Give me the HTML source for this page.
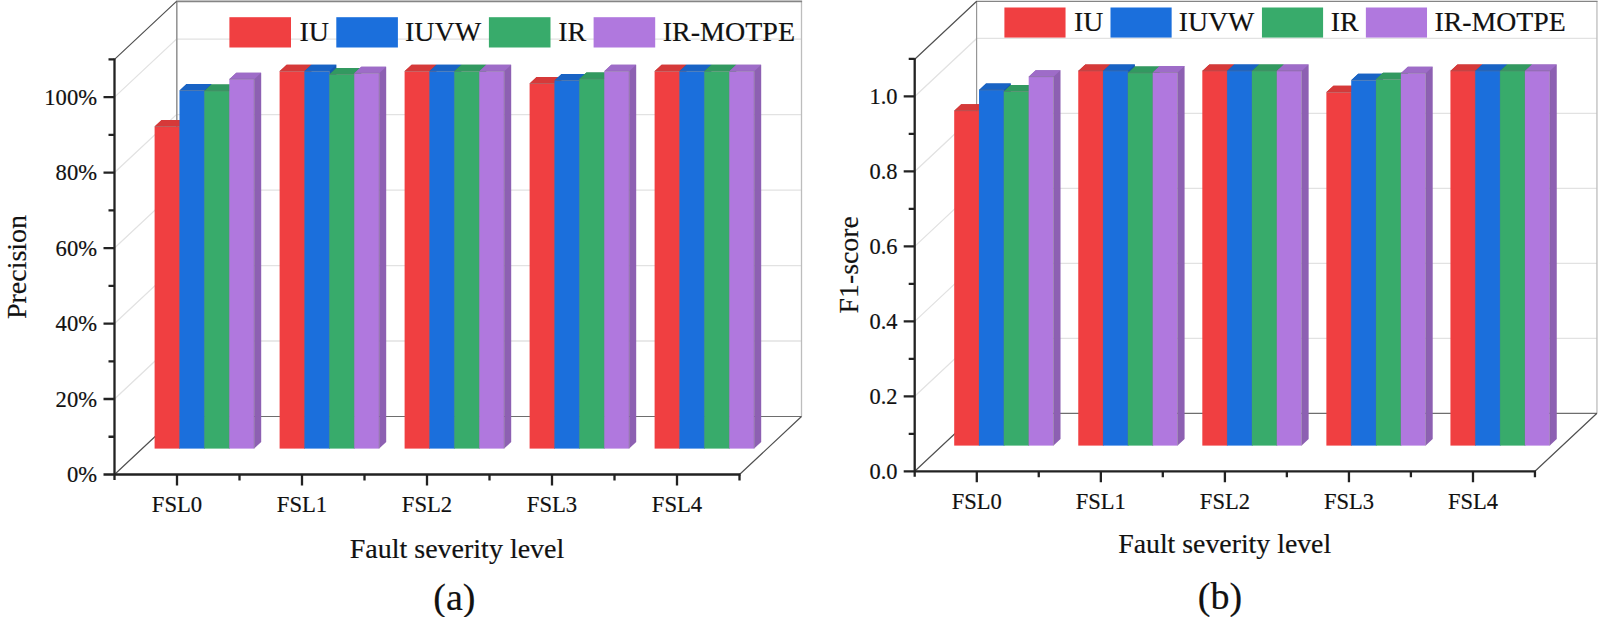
<!DOCTYPE html>
<html lang="en">
<head>
<meta charset="utf-8">
<title>Precision and F1-score by fault severity level</title>
<style>
html,body{margin:0;padding:0;background:#fff;}
body{width:1600px;height:617px;overflow:hidden;}
svg{display:block;}
svg text{font-family:"Liberation Serif",serif;fill:#111;stroke:#111;stroke-width:0.18px;}
</style>
</head>
<body>
<svg width="1600" height="617" viewBox="0 0 1600 617">
<rect width="1600" height="617" fill="#fff"/>
<g id="chart-a">
<path d="M114.5 399.02L176.5 341.02H801.5" fill="none" stroke="#e2e2e2" stroke-width="1.3"/>
<path d="M114.5 323.54L176.5 265.54H801.5" fill="none" stroke="#e2e2e2" stroke-width="1.3"/>
<path d="M114.5 248.06L176.5 190.06H801.5" fill="none" stroke="#e2e2e2" stroke-width="1.3"/>
<path d="M114.5 172.58L176.5 114.58H801.5" fill="none" stroke="#e2e2e2" stroke-width="1.3"/>
<path d="M114.5 97.1L176.5 39.1H801.5" fill="none" stroke="#e2e2e2" stroke-width="1.3"/>
<path d="M801.5 1.4V416.5" fill="none" stroke="#bdbdbd" stroke-width="1.3"/>
<path d="M176.8 416.5V1.4" fill="none" stroke="#969696" stroke-width="1.6"/>
<path d="M176 1.4H802.1" fill="none" stroke="#858585" stroke-width="1.6"/>
<path d="M176.5 416.5H801.5" fill="none" stroke="#6e6e6e" stroke-width="1.2"/>
<path d="M114.5 59.4L176.5 1.4M114.5 474.5L176.5 416.5M739.5 474.5L801.5 416.5" fill="none" stroke="#505050" stroke-width="1.2"/>
<path d="M154.6 126.6L161.6 120.1H186.5V442.1L179.5 448.6V126.6Z" fill="#BF3333"/>
<path d="M154.6 126.6L161.6 120.1H186.5L179.5 126.6Z" fill="#D63939"/>
<rect x="154.6" y="126.6" width="25.3" height="322" fill="#F03F41"/>
<path d="M154.6 126.6H179.5V448.6" fill="none" stroke="#707070" stroke-opacity="0.45" stroke-width="0.8"/>
<path d="M179.5 90.6L186.5 84.1H211.4V442.1L204.4 448.6V90.6Z" fill="#1558B0"/>
<path d="M179.5 90.6L186.5 84.1H211.4L204.4 90.6Z" fill="#1863C5"/>
<rect x="179.5" y="90.6" width="25.3" height="358" fill="#1B6FDC"/>
<path d="M179.5 90.6H204.4V448.6" fill="none" stroke="#707070" stroke-opacity="0.45" stroke-width="0.8"/>
<path d="M204.4 90.9L211.4 84.4H236.3V442.1L229.3 448.6V90.9Z" fill="#2C8855"/>
<path d="M204.4 90.9L211.4 84.4H236.3L229.3 90.9Z" fill="#329960"/>
<rect x="204.4" y="90.9" width="25.3" height="357.7" fill="#38AB6B"/>
<path d="M204.4 90.9H229.3V448.6" fill="none" stroke="#707070" stroke-opacity="0.45" stroke-width="0.8"/>
<path d="M229.3 79.2L236.3 72.7H261.2V442.1L254.2 448.6V79.2Z" fill="#8D60B2"/>
<path d="M229.3 79.2L236.3 72.7H261.2L254.2 79.2Z" fill="#9E6CC8"/>
<rect x="229.3" y="79.2" width="24.9" height="369.4" fill="#B078DE"/>
<path d="M229.3 79.2H254.2V448.6" fill="none" stroke="#707070" stroke-opacity="0.45" stroke-width="0.8"/>
<path d="M279.6 71.3L286.6 64.8H311.5V442.1L304.5 448.6V71.3Z" fill="#BF3333"/>
<path d="M279.6 71.3L286.6 64.8H311.5L304.5 71.3Z" fill="#D63939"/>
<rect x="279.6" y="71.3" width="25.3" height="377.3" fill="#F03F41"/>
<path d="M279.6 71.3H304.5V448.6" fill="none" stroke="#707070" stroke-opacity="0.45" stroke-width="0.8"/>
<path d="M304.5 71.3L311.5 64.8H336.4V442.1L329.4 448.6V71.3Z" fill="#1558B0"/>
<path d="M304.5 71.3L311.5 64.8H336.4L329.4 71.3Z" fill="#1863C5"/>
<rect x="304.5" y="71.3" width="25.3" height="377.3" fill="#1B6FDC"/>
<path d="M304.5 71.3H329.4V448.6" fill="none" stroke="#707070" stroke-opacity="0.45" stroke-width="0.8"/>
<path d="M329.4 74.4L336.4 67.9H361.3V442.1L354.3 448.6V74.4Z" fill="#2C8855"/>
<path d="M329.4 74.4L336.4 67.9H361.3L354.3 74.4Z" fill="#329960"/>
<rect x="329.4" y="74.4" width="25.3" height="374.2" fill="#38AB6B"/>
<path d="M329.4 74.4H354.3V448.6" fill="none" stroke="#707070" stroke-opacity="0.45" stroke-width="0.8"/>
<path d="M354.3 73.3L361.3 66.8H386.2V442.1L379.2 448.6V73.3Z" fill="#8D60B2"/>
<path d="M354.3 73.3L361.3 66.8H386.2L379.2 73.3Z" fill="#9E6CC8"/>
<rect x="354.3" y="73.3" width="24.9" height="375.3" fill="#B078DE"/>
<path d="M354.3 73.3H379.2V448.6" fill="none" stroke="#707070" stroke-opacity="0.45" stroke-width="0.8"/>
<path d="M404.6 71.3L411.6 64.8H436.5V442.1L429.5 448.6V71.3Z" fill="#BF3333"/>
<path d="M404.6 71.3L411.6 64.8H436.5L429.5 71.3Z" fill="#D63939"/>
<rect x="404.6" y="71.3" width="25.3" height="377.3" fill="#F03F41"/>
<path d="M404.6 71.3H429.5V448.6" fill="none" stroke="#707070" stroke-opacity="0.45" stroke-width="0.8"/>
<path d="M429.5 71.3L436.5 64.8H461.4V442.1L454.4 448.6V71.3Z" fill="#1558B0"/>
<path d="M429.5 71.3L436.5 64.8H461.4L454.4 71.3Z" fill="#1863C5"/>
<rect x="429.5" y="71.3" width="25.3" height="377.3" fill="#1B6FDC"/>
<path d="M429.5 71.3H454.4V448.6" fill="none" stroke="#707070" stroke-opacity="0.45" stroke-width="0.8"/>
<path d="M454.4 71.3L461.4 64.8H486.3V442.1L479.3 448.6V71.3Z" fill="#2C8855"/>
<path d="M454.4 71.3L461.4 64.8H486.3L479.3 71.3Z" fill="#329960"/>
<rect x="454.4" y="71.3" width="25.3" height="377.3" fill="#38AB6B"/>
<path d="M454.4 71.3H479.3V448.6" fill="none" stroke="#707070" stroke-opacity="0.45" stroke-width="0.8"/>
<path d="M479.3 71.3L486.3 64.8H511.2V442.1L504.2 448.6V71.3Z" fill="#8D60B2"/>
<path d="M479.3 71.3L486.3 64.8H511.2L504.2 71.3Z" fill="#9E6CC8"/>
<rect x="479.3" y="71.3" width="24.9" height="377.3" fill="#B078DE"/>
<path d="M479.3 71.3H504.2V448.6" fill="none" stroke="#707070" stroke-opacity="0.45" stroke-width="0.8"/>
<path d="M529.6 83.5L536.6 77H561.5V442.1L554.5 448.6V83.5Z" fill="#BF3333"/>
<path d="M529.6 83.5L536.6 77H561.5L554.5 83.5Z" fill="#D63939"/>
<rect x="529.6" y="83.5" width="25.3" height="365.1" fill="#F03F41"/>
<path d="M529.6 83.5H554.5V448.6" fill="none" stroke="#707070" stroke-opacity="0.45" stroke-width="0.8"/>
<path d="M554.5 80.6L561.5 74.1H586.4V442.1L579.4 448.6V80.6Z" fill="#1558B0"/>
<path d="M554.5 80.6L561.5 74.1H586.4L579.4 80.6Z" fill="#1863C5"/>
<rect x="554.5" y="80.6" width="25.3" height="368" fill="#1B6FDC"/>
<path d="M554.5 80.6H579.4V448.6" fill="none" stroke="#707070" stroke-opacity="0.45" stroke-width="0.8"/>
<path d="M579.4 79L586.4 72.5H611.3V442.1L604.3 448.6V79Z" fill="#2C8855"/>
<path d="M579.4 79L586.4 72.5H611.3L604.3 79Z" fill="#329960"/>
<rect x="579.4" y="79" width="25.3" height="369.6" fill="#38AB6B"/>
<path d="M579.4 79H604.3V448.6" fill="none" stroke="#707070" stroke-opacity="0.45" stroke-width="0.8"/>
<path d="M604.3 71.3L611.3 64.8H636.2V442.1L629.2 448.6V71.3Z" fill="#8D60B2"/>
<path d="M604.3 71.3L611.3 64.8H636.2L629.2 71.3Z" fill="#9E6CC8"/>
<rect x="604.3" y="71.3" width="24.9" height="377.3" fill="#B078DE"/>
<path d="M604.3 71.3H629.2V448.6" fill="none" stroke="#707070" stroke-opacity="0.45" stroke-width="0.8"/>
<path d="M654.6 71.3L661.6 64.8H686.5V442.1L679.5 448.6V71.3Z" fill="#BF3333"/>
<path d="M654.6 71.3L661.6 64.8H686.5L679.5 71.3Z" fill="#D63939"/>
<rect x="654.6" y="71.3" width="25.3" height="377.3" fill="#F03F41"/>
<path d="M654.6 71.3H679.5V448.6" fill="none" stroke="#707070" stroke-opacity="0.45" stroke-width="0.8"/>
<path d="M679.5 71.3L686.5 64.8H711.4V442.1L704.4 448.6V71.3Z" fill="#1558B0"/>
<path d="M679.5 71.3L686.5 64.8H711.4L704.4 71.3Z" fill="#1863C5"/>
<rect x="679.5" y="71.3" width="25.3" height="377.3" fill="#1B6FDC"/>
<path d="M679.5 71.3H704.4V448.6" fill="none" stroke="#707070" stroke-opacity="0.45" stroke-width="0.8"/>
<path d="M704.4 71.3L711.4 64.8H736.3V442.1L729.3 448.6V71.3Z" fill="#2C8855"/>
<path d="M704.4 71.3L711.4 64.8H736.3L729.3 71.3Z" fill="#329960"/>
<rect x="704.4" y="71.3" width="25.3" height="377.3" fill="#38AB6B"/>
<path d="M704.4 71.3H729.3V448.6" fill="none" stroke="#707070" stroke-opacity="0.45" stroke-width="0.8"/>
<path d="M729.3 71.3L736.3 64.8H761.2V442.1L754.2 448.6V71.3Z" fill="#8D60B2"/>
<path d="M729.3 71.3L736.3 64.8H761.2L754.2 71.3Z" fill="#9E6CC8"/>
<rect x="729.3" y="71.3" width="24.9" height="377.3" fill="#B078DE"/>
<path d="M729.3 71.3H754.2V448.6" fill="none" stroke="#707070" stroke-opacity="0.45" stroke-width="0.8"/>
<path d="M114.5 58.4V480M103.5 474.5H740.5" fill="none" stroke="#222" stroke-width="2.3"/>
<path d="M108.5 436.76H114.5M103.5 399.02H114.5M108.5 361.28H114.5M103.5 323.54H114.5M108.5 285.8H114.5M103.5 248.06H114.5M108.5 210.32H114.5M103.5 172.58H114.5M108.5 134.84H114.5M103.5 97.1H114.5M108.5 59.36H114.5M177 474.5V485.5M302 474.5V485.5M427 474.5V485.5M552 474.5V485.5M677 474.5V485.5M239.5 474.5V480.5M364.5 474.5V480.5M489.5 474.5V480.5M614.5 474.5V480.5M739.5 474.5V480.5" fill="none" stroke="#222" stroke-width="2.3"/>
<text x="97" y="482" font-size="22.6" text-anchor="end">0%</text>
<text x="97" y="406.52" font-size="22.6" text-anchor="end">20%</text>
<text x="97" y="331.04" font-size="22.6" text-anchor="end">40%</text>
<text x="97" y="255.56" font-size="22.6" text-anchor="end">60%</text>
<text x="97" y="180.08" font-size="22.6" text-anchor="end">80%</text>
<text x="97" y="104.6" font-size="22.6" text-anchor="end">100%</text>
<text x="177" y="512.2" font-size="22.7" text-anchor="middle">FSL0</text>
<text x="302" y="512.2" font-size="22.7" text-anchor="middle">FSL1</text>
<text x="427" y="512.2" font-size="22.7" text-anchor="middle">FSL2</text>
<text x="552" y="512.2" font-size="22.7" text-anchor="middle">FSL3</text>
<text x="677" y="512.2" font-size="22.7" text-anchor="middle">FSL4</text>
<text x="457" y="557.9" font-size="28" text-anchor="middle">Fault severity level</text>
<text transform="translate(26 267) rotate(-90)" font-size="28" text-anchor="middle">Precision</text>
<text x="454.4" y="609.6" font-size="38" text-anchor="middle" fill="#000">(a)</text>
<rect x="229.4" y="17.2" width="61.6" height="30.3" fill="#F03F41"/>
<text x="299.5" y="40.9" font-size="28" fill="#000">IU</text>
<rect x="336.3" y="17.2" width="61.6" height="30.3" fill="#1B6FDC"/>
<text x="405" y="40.9" font-size="28" fill="#000">IUVW</text>
<rect x="488.9" y="17.2" width="61.6" height="30.3" fill="#38AB6B"/>
<text x="558.2" y="40.9" font-size="28" fill="#000">IR</text>
<rect x="593.6" y="17.2" width="61.6" height="30.3" fill="#B078DE"/>
<text x="662.8" y="40.9" font-size="28" fill="#000">IR-MOTPE</text>
</g>
<g id="chart-b">
<path d="M914.7 396.33L976.7 338.33H1596.95" fill="none" stroke="#e2e2e2" stroke-width="1.3"/>
<path d="M914.7 321.36L976.7 263.36H1596.95" fill="none" stroke="#e2e2e2" stroke-width="1.3"/>
<path d="M914.7 246.39L976.7 188.39H1596.95" fill="none" stroke="#e2e2e2" stroke-width="1.3"/>
<path d="M914.7 171.42L976.7 113.42H1596.95" fill="none" stroke="#e2e2e2" stroke-width="1.3"/>
<path d="M914.7 96.45L976.7 38.45H1596.95" fill="none" stroke="#e2e2e2" stroke-width="1.3"/>
<path d="M1596.95 1.3V413.3" fill="none" stroke="#bdbdbd" stroke-width="1.3"/>
<path d="M976.6 413.3V1.3" fill="none" stroke="#969696" stroke-width="1.2"/>
<path d="M976.2 1.3H1597.55" fill="none" stroke="#858585" stroke-width="1.2"/>
<path d="M976.7 413.3H1596.95" fill="none" stroke="#6e6e6e" stroke-width="1.2"/>
<path d="M914.7 59.3L976.7 1.3M914.7 471.3L976.7 413.3M1534.95 471.3L1596.95 413.3" fill="none" stroke="#505050" stroke-width="1.2"/>
<path d="M954.2 110.7L961.2 104.2H986.03V439.1L979.03 445.6V110.7Z" fill="#BF3333"/>
<path d="M954.2 110.7L961.2 104.2H986.03L979.03 110.7Z" fill="#D63939"/>
<rect x="954.2" y="110.7" width="25.23" height="334.9" fill="#F03F41"/>
<path d="M954.2 110.7H979.03V445.6" fill="none" stroke="#707070" stroke-opacity="0.45" stroke-width="0.8"/>
<path d="M979.03 90L986.03 83.5H1010.86V439.1L1003.86 445.6V90Z" fill="#1558B0"/>
<path d="M979.03 90L986.03 83.5H1010.86L1003.86 90Z" fill="#1863C5"/>
<rect x="979.03" y="90" width="25.23" height="355.6" fill="#1B6FDC"/>
<path d="M979.03 90H1003.86V445.6" fill="none" stroke="#707070" stroke-opacity="0.45" stroke-width="0.8"/>
<path d="M1003.86 91.5L1010.86 85H1035.69V439.1L1028.69 445.6V91.5Z" fill="#2C8855"/>
<path d="M1003.86 91.5L1010.86 85H1035.69L1028.69 91.5Z" fill="#329960"/>
<rect x="1003.86" y="91.5" width="25.23" height="354.1" fill="#38AB6B"/>
<path d="M1003.86 91.5H1028.69V445.6" fill="none" stroke="#707070" stroke-opacity="0.45" stroke-width="0.8"/>
<path d="M1028.69 76.7L1035.69 70.2H1060.52V439.1L1053.52 445.6V76.7Z" fill="#8D60B2"/>
<path d="M1028.69 76.7L1035.69 70.2H1060.52L1053.52 76.7Z" fill="#9E6CC8"/>
<rect x="1028.69" y="76.7" width="24.83" height="368.9" fill="#B078DE"/>
<path d="M1028.69 76.7H1053.52V445.6" fill="none" stroke="#707070" stroke-opacity="0.45" stroke-width="0.8"/>
<path d="M1078.26 70.9L1085.26 64.4H1110.09V439.1L1103.09 445.6V70.9Z" fill="#BF3333"/>
<path d="M1078.26 70.9L1085.26 64.4H1110.09L1103.09 70.9Z" fill="#D63939"/>
<rect x="1078.26" y="70.9" width="25.23" height="374.7" fill="#F03F41"/>
<path d="M1078.26 70.9H1103.09V445.6" fill="none" stroke="#707070" stroke-opacity="0.45" stroke-width="0.8"/>
<path d="M1103.09 70.9L1110.09 64.4H1134.92V439.1L1127.92 445.6V70.9Z" fill="#1558B0"/>
<path d="M1103.09 70.9L1110.09 64.4H1134.92L1127.92 70.9Z" fill="#1863C5"/>
<rect x="1103.09" y="70.9" width="25.23" height="374.7" fill="#1B6FDC"/>
<path d="M1103.09 70.9H1127.92V445.6" fill="none" stroke="#707070" stroke-opacity="0.45" stroke-width="0.8"/>
<path d="M1127.92 73L1134.92 66.5H1159.75V439.1L1152.75 445.6V73Z" fill="#2C8855"/>
<path d="M1127.92 73L1134.92 66.5H1159.75L1152.75 73Z" fill="#329960"/>
<rect x="1127.92" y="73" width="25.23" height="372.6" fill="#38AB6B"/>
<path d="M1127.92 73H1152.75V445.6" fill="none" stroke="#707070" stroke-opacity="0.45" stroke-width="0.8"/>
<path d="M1152.75 72.5L1159.75 66H1184.58V439.1L1177.58 445.6V72.5Z" fill="#8D60B2"/>
<path d="M1152.75 72.5L1159.75 66H1184.58L1177.58 72.5Z" fill="#9E6CC8"/>
<rect x="1152.75" y="72.5" width="24.83" height="373.1" fill="#B078DE"/>
<path d="M1152.75 72.5H1177.58V445.6" fill="none" stroke="#707070" stroke-opacity="0.45" stroke-width="0.8"/>
<path d="M1202.32 70.9L1209.32 64.4H1234.15V439.1L1227.15 445.6V70.9Z" fill="#BF3333"/>
<path d="M1202.32 70.9L1209.32 64.4H1234.15L1227.15 70.9Z" fill="#D63939"/>
<rect x="1202.32" y="70.9" width="25.23" height="374.7" fill="#F03F41"/>
<path d="M1202.32 70.9H1227.15V445.6" fill="none" stroke="#707070" stroke-opacity="0.45" stroke-width="0.8"/>
<path d="M1227.15 70.9L1234.15 64.4H1258.98V439.1L1251.98 445.6V70.9Z" fill="#1558B0"/>
<path d="M1227.15 70.9L1234.15 64.4H1258.98L1251.98 70.9Z" fill="#1863C5"/>
<rect x="1227.15" y="70.9" width="25.23" height="374.7" fill="#1B6FDC"/>
<path d="M1227.15 70.9H1251.98V445.6" fill="none" stroke="#707070" stroke-opacity="0.45" stroke-width="0.8"/>
<path d="M1251.98 70.9L1258.98 64.4H1283.81V439.1L1276.81 445.6V70.9Z" fill="#2C8855"/>
<path d="M1251.98 70.9L1258.98 64.4H1283.81L1276.81 70.9Z" fill="#329960"/>
<rect x="1251.98" y="70.9" width="25.23" height="374.7" fill="#38AB6B"/>
<path d="M1251.98 70.9H1276.81V445.6" fill="none" stroke="#707070" stroke-opacity="0.45" stroke-width="0.8"/>
<path d="M1276.81 70.9L1283.81 64.4H1308.64V439.1L1301.64 445.6V70.9Z" fill="#8D60B2"/>
<path d="M1276.81 70.9L1283.81 64.4H1308.64L1301.64 70.9Z" fill="#9E6CC8"/>
<rect x="1276.81" y="70.9" width="24.83" height="374.7" fill="#B078DE"/>
<path d="M1276.81 70.9H1301.64V445.6" fill="none" stroke="#707070" stroke-opacity="0.45" stroke-width="0.8"/>
<path d="M1326.38 92.3L1333.38 85.8H1358.21V439.1L1351.21 445.6V92.3Z" fill="#BF3333"/>
<path d="M1326.38 92.3L1333.38 85.8H1358.21L1351.21 92.3Z" fill="#D63939"/>
<rect x="1326.38" y="92.3" width="25.23" height="353.3" fill="#F03F41"/>
<path d="M1326.38 92.3H1351.21V445.6" fill="none" stroke="#707070" stroke-opacity="0.45" stroke-width="0.8"/>
<path d="M1351.21 80.3L1358.21 73.8H1383.04V439.1L1376.04 445.6V80.3Z" fill="#1558B0"/>
<path d="M1351.21 80.3L1358.21 73.8H1383.04L1376.04 80.3Z" fill="#1863C5"/>
<rect x="1351.21" y="80.3" width="25.23" height="365.3" fill="#1B6FDC"/>
<path d="M1351.21 80.3H1376.04V445.6" fill="none" stroke="#707070" stroke-opacity="0.45" stroke-width="0.8"/>
<path d="M1376.04 79.3L1383.04 72.8H1407.87V439.1L1400.87 445.6V79.3Z" fill="#2C8855"/>
<path d="M1376.04 79.3L1383.04 72.8H1407.87L1400.87 79.3Z" fill="#329960"/>
<rect x="1376.04" y="79.3" width="25.23" height="366.3" fill="#38AB6B"/>
<path d="M1376.04 79.3H1400.87V445.6" fill="none" stroke="#707070" stroke-opacity="0.45" stroke-width="0.8"/>
<path d="M1400.87 73.3L1407.87 66.8H1432.7V439.1L1425.7 445.6V73.3Z" fill="#8D60B2"/>
<path d="M1400.87 73.3L1407.87 66.8H1432.7L1425.7 73.3Z" fill="#9E6CC8"/>
<rect x="1400.87" y="73.3" width="24.83" height="372.3" fill="#B078DE"/>
<path d="M1400.87 73.3H1425.7V445.6" fill="none" stroke="#707070" stroke-opacity="0.45" stroke-width="0.8"/>
<path d="M1450.44 70.9L1457.44 64.4H1482.27V439.1L1475.27 445.6V70.9Z" fill="#BF3333"/>
<path d="M1450.44 70.9L1457.44 64.4H1482.27L1475.27 70.9Z" fill="#D63939"/>
<rect x="1450.44" y="70.9" width="25.23" height="374.7" fill="#F03F41"/>
<path d="M1450.44 70.9H1475.27V445.6" fill="none" stroke="#707070" stroke-opacity="0.45" stroke-width="0.8"/>
<path d="M1475.27 70.9L1482.27 64.4H1507.1V439.1L1500.1 445.6V70.9Z" fill="#1558B0"/>
<path d="M1475.27 70.9L1482.27 64.4H1507.1L1500.1 70.9Z" fill="#1863C5"/>
<rect x="1475.27" y="70.9" width="25.23" height="374.7" fill="#1B6FDC"/>
<path d="M1475.27 70.9H1500.1V445.6" fill="none" stroke="#707070" stroke-opacity="0.45" stroke-width="0.8"/>
<path d="M1500.1 70.9L1507.1 64.4H1531.93V439.1L1524.93 445.6V70.9Z" fill="#2C8855"/>
<path d="M1500.1 70.9L1507.1 64.4H1531.93L1524.93 70.9Z" fill="#329960"/>
<rect x="1500.1" y="70.9" width="25.23" height="374.7" fill="#38AB6B"/>
<path d="M1500.1 70.9H1524.93V445.6" fill="none" stroke="#707070" stroke-opacity="0.45" stroke-width="0.8"/>
<path d="M1524.93 70.9L1531.93 64.4H1556.76V439.1L1549.76 445.6V70.9Z" fill="#8D60B2"/>
<path d="M1524.93 70.9L1531.93 64.4H1556.76L1549.76 70.9Z" fill="#9E6CC8"/>
<rect x="1524.93" y="70.9" width="24.83" height="374.7" fill="#B078DE"/>
<path d="M1524.93 70.9H1549.76V445.6" fill="none" stroke="#707070" stroke-opacity="0.45" stroke-width="0.8"/>
<path d="M914.7 58.3V476.8M903.7 471.3H1535.95" fill="none" stroke="#222" stroke-width="2.3"/>
<path d="M908.7 433.81H914.7M903.7 396.33H914.7M908.7 358.85H914.7M903.7 321.36H914.7M908.7 283.88H914.7M903.7 246.39H914.7M908.7 208.9H914.7M903.7 171.42H914.7M908.7 133.94H914.7M903.7 96.45H914.7M908.7 58.96H914.7M976.8 471.3V482.3M1100.85 471.3V482.3M1224.9 471.3V482.3M1348.95 471.3V482.3M1473 471.3V482.3M1038.75 471.3V477.3M1162.8 471.3V477.3M1286.85 471.3V477.3M1410.9 471.3V477.3M1534.95 471.3V477.3" fill="none" stroke="#222" stroke-width="2.3"/>
<text x="897.5" y="478.8" font-size="22.43" text-anchor="end">0.0</text>
<text x="897.5" y="403.83" font-size="22.43" text-anchor="end">0.2</text>
<text x="897.5" y="328.86" font-size="22.43" text-anchor="end">0.4</text>
<text x="897.5" y="253.89" font-size="22.43" text-anchor="end">0.6</text>
<text x="897.5" y="178.92" font-size="22.43" text-anchor="end">0.8</text>
<text x="897.5" y="103.95" font-size="22.43" text-anchor="end">1.0</text>
<text x="976.8" y="508.9" font-size="22.53" text-anchor="middle">FSL0</text>
<text x="1100.85" y="508.9" font-size="22.53" text-anchor="middle">FSL1</text>
<text x="1224.9" y="508.9" font-size="22.53" text-anchor="middle">FSL2</text>
<text x="1348.95" y="508.9" font-size="22.53" text-anchor="middle">FSL3</text>
<text x="1473" y="508.9" font-size="22.53" text-anchor="middle">FSL4</text>
<text x="1224.7" y="553" font-size="27.79" text-anchor="middle">Fault severity level</text>
<text transform="translate(857.7 264.8) rotate(-90)" font-size="27.79" text-anchor="middle">F1-score</text>
<text x="1220" y="609" font-size="38" text-anchor="middle" fill="#000">(b)</text>
<rect x="1004.4" y="7.5" width="61.14" height="30.07" fill="#F03F41"/>
<text x="1073.97" y="31.02" font-size="27.79" fill="#000">IU</text>
<rect x="1110.5" y="7.5" width="61.14" height="30.07" fill="#1B6FDC"/>
<text x="1178.68" y="31.02" font-size="27.79" fill="#000">IUVW</text>
<rect x="1261.95" y="7.5" width="61.14" height="30.07" fill="#38AB6B"/>
<text x="1330.73" y="31.02" font-size="27.79" fill="#000">IR</text>
<rect x="1365.87" y="7.5" width="61.14" height="30.07" fill="#B078DE"/>
<text x="1434.55" y="31.02" font-size="27.79" fill="#000">IR-MOTPE</text>
</g>
</svg>
</body>
</html>
